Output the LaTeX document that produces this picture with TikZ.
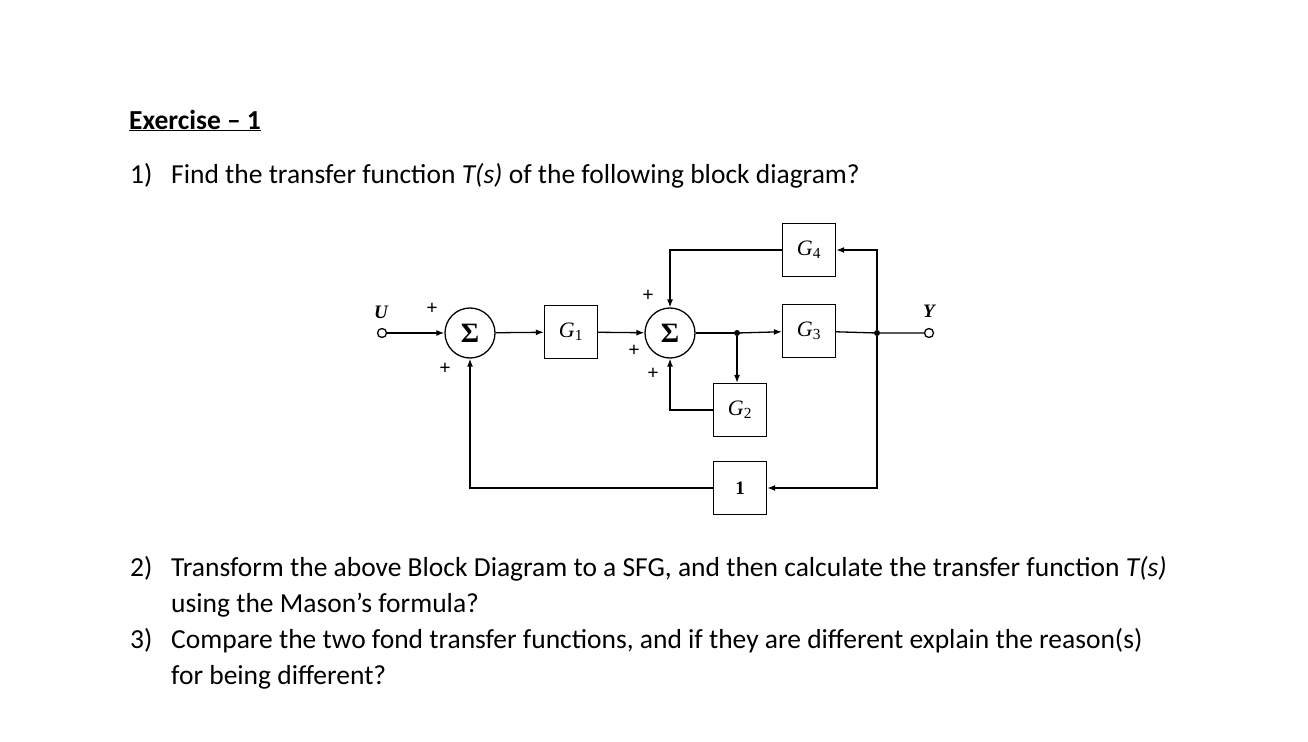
\documentclass[tikz,border=0pt]{standalone}
\usepackage{fontspec}
\setmainfont{Carlito}
\newfontfamily\tms{Liberation Serif}
\usetikzlibrary{arrows.meta}
\begin{document}
\begin{tikzpicture}[x=1pt,y=-1pt,
  blk/.style={draw,line width=1.3pt,minimum width=53pt,minimum height=53pt,inner sep=0pt,font=\tms\itshape\fontsize{22}{22}\selectfont},
  sumc/.style={draw,circle,line width=1.3pt,minimum size=50pt,inner sep=0pt,font=\tms\bfseries\fontsize{28}{28}\selectfont},
  term/.style={draw,circle,line width=1.3pt,minimum size=9pt,inner sep=0pt},
  dot/.style={circle,fill,minimum size=6pt,inner sep=0pt},
  ar/.style={line width=1.3pt,-{Latex[length=8pt,width=6pt]}},
  ln/.style={line width=1.3pt},
  sg/.style={font=\tms\bfseries\fontsize{20}{20}\selectfont},
  lab/.style={font=\tms\itshape\bfseries\fontsize{19}{19}\selectfont},
  txt/.style={anchor=base west,inner sep=0pt,font=\fontsize{27.5}{33}\selectfont}]
\useasboundingbox (0,0) rectangle (1308,741);
\node[txt] (title) at (129,129) {\underline{\textbf{Exercise – 1}}};
\node[txt] (q1n) at (130,183) {1)};
\node[txt] (q1) at (171,183) {Find the transfer function \textit{T(s)} of the following block diagram?};
\node[txt] (q2n) at (130,576) {2)};
\node[txt] (q2) at (171,576) {Transform the above Block Diagram to a SFG, and then calculate the transfer function \textit{T(s)}};
\node[txt] (q2b) at (171,612) {using the Mason’s formula?};
\node[txt] (q3n) at (130,648) {3)};
\node[txt] (q3) at (171,648) {Compare the two fond transfer functions, and if they are different explain the reason(s)};
\node[txt] (q3b) at (171,684) {for being different?};

\node[term] (U) at (382,333) {};
\node[sumc] (s1) at (470,333) {Σ};
\node[blk] (g1) at (571,332) {G\textsubscript{\upshape 1}};
\node[sumc] (s2) at (670,333) {Σ};
\node[dot] (d1) at (737,333) {};
\node[blk] (g3) at (809,331) {G\textsubscript{\upshape 3}};
\node[blk] (g4) at (809,250) {G\textsubscript{\upshape 4}};
\node[blk] (g2) at (740,410) {G\textsubscript{\upshape 2}};
\node[blk,font=\tms\bfseries\fontsize{19}{19}\selectfont] (one) at (740,488) {1};
\node[dot] (d2) at (877,333) {};
\node[term] (Y) at (929,333) {};
\coordinate (c4) at (877,250);
\coordinate (c1) at (877,488);
\coordinate (cb) at (470,488);
\coordinate (c2) at (670,410);
\coordinate (ct) at (670,250);

\draw[ar] (U) -- (s1);
\draw[ar] (s1) -- (g1);
\draw[ar] (g1) -- (s2);
\draw[ln] (s2) -- (d1);
\draw[ar] (d1) -- (g3);
\draw[ar] (d1) -- (d1 |- g2.north);
\draw[ar] (g2.west) -- (c2) -- (s2);
\draw[ar] (g4.west) -- (ct) -- (s2);
\draw[ln] (g3) -- (d2) -- (Y);
\draw[ar] (d2) -- (c4) -- (g4.east);
\draw[ar] (d2) -- (c1) -- (one.east);
\draw[ar] (one.west) -- (cb) -- (s1);

\node[sg] (p1) at (432,309) {+};
\node[sg] (p2) at (445,369) {+};
\node[sg] (p3) at (648,296) {+};
\node[sg] (p4) at (634,351) {+};
\node[sg] (p5) at (653,374) {+};
\node[lab] (lu) at (381,312) {U};
\node[lab] (ly) at (929,311) {Y};
\end{tikzpicture}
\end{document}
